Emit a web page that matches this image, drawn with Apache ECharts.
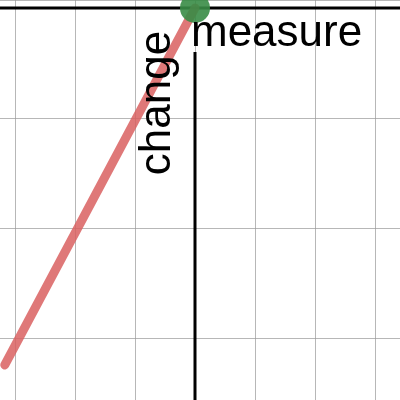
<!DOCTYPE html>
<html><head><meta charset="utf-8">
<script src="https://cdn.jsdelivr.net/npm/echarts@6/dist/echarts.min.js"></script>
<style>html,body{margin:0;padding:0;background:#fff}#c{width:400px;height:400px}</style>
</head><body><div id="c"></div>
<script>
const lineX = [-3.17, 0];
const lineY = [-3.245, 0];
const pointXY = [[0, 0]];
const xLabel = 'measure';
const yLabel = 'change';
const chart = echarts.init(document.getElementById('c'));
chart.setOption({
  animation: false,
  grid: {left: -45, right: 0, top: 0, bottom: -48, outerBoundsMode: 'none', containLabel: false},
  xAxis: {type: 'value', min: -4, max: 205/60, interval: 1,
    axisLine: {show: false}, axisTick: {show: false}, axisLabel: {show: false},
    splitLine: {lineStyle: {color: '#999', width: 1, opacity: 0.7}}},
  yAxis: {type: 'value', min: -4, max: 8/110, interval: 1,
    axisLine: {show: false}, axisTick: {show: false}, axisLabel: {show: false},
    splitLine: {lineStyle: {color: '#999', width: 1, opacity: 0.7}}},
  series: [
    {type: 'line', data: [[-4, 0], [4, 0]], symbol: 'none', lineStyle: {color: '#000', width: 3}, z: 3},
    {type: 'line', data: [[0, -0.4], [0, -4]], symbol: 'none', lineStyle: {color: '#000', width: 3}, z: 3},
    {type: 'line', data: lineX.map((x, i) => [x, lineY[i]]), symbol: 'none',
      lineStyle: {color: '#d96060', width: 9, opacity: 0.85, cap: 'round'}, z: 4},
    {type: 'scatter', data: pointXY, symbolSize: 30, itemStyle: {color: '#388c46', opacity: 0.9}, z: 5}
  ],
  graphic: [
    {type: 'text', left: 191, top: 12, z: 10, style: {text: xLabel, font: '44px "Liberation Sans"', fill: '#000'}},
    {type: 'text', x: 180, y: 103, rotation: Math.PI/2, z: 10,
      style: {text: yLabel, font: '44px "Liberation Sans"', fill: '#000', align: 'center', verticalAlign: 'bottom'}}
  ]
});
</script></body></html>
